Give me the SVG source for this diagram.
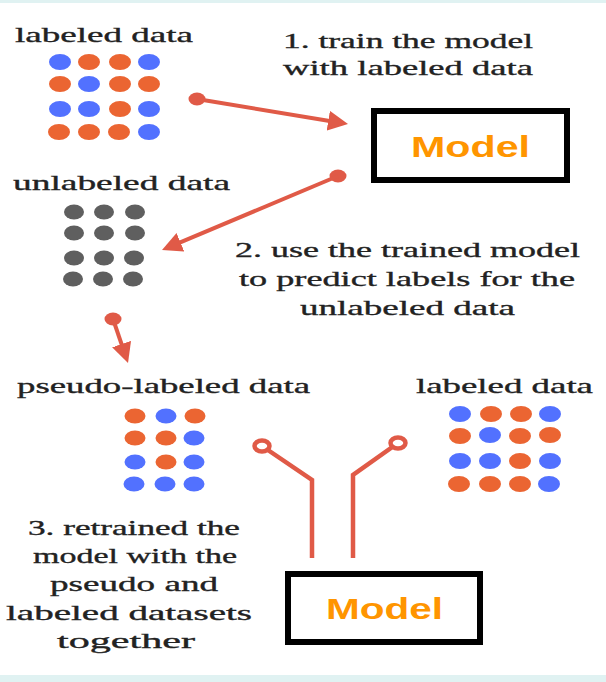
<svg xmlns="http://www.w3.org/2000/svg" width="606" height="682" viewBox="0 0 606 682">
<defs>
<style>
.t{font-family:"Liberation Serif","DejaVu Serif",serif;font-size:22px;fill:#222;stroke:#222;stroke-width:0.35}
.m{font-family:"Liberation Sans",Arial,sans-serif;font-weight:bold;font-size:30px;fill:#FF9500}
.box{fill:#fff;stroke:#000;stroke-width:6}
.b{fill:#5271FF}
.o{fill:#EB6532}
.g{fill:#5f5f5f}
.c{stroke:#E05A47;stroke-width:4;fill:none}
.cy{stroke:#E05A47;stroke-width:4.5;fill:none}
.dot{fill:#E05A47}
.ring{fill:#fff;stroke:#E05A47;stroke-width:4.5}
</style>
<marker id="ah" markerUnits="userSpaceOnUse" markerWidth="22" markerHeight="20" refX="6" refY="10" orient="auto" viewBox="0 0 22 20">
<path d="M0,0 L20,10 L0,20 z" fill="#E05A47"/>
</marker>
</defs>
<rect x="0" y="0" width="606" height="682" fill="#fff"/>
<rect x="0" y="0" width="606" height="3" fill="#E0F2F2"/>
<rect x="0" y="675" width="606" height="7" fill="#E0F2F2"/>

<g id="labeled-data-top">
<text class="t" x="15" y="42" textLength="178" lengthAdjust="spacingAndGlyphs">labeled data</text>
<ellipse class="b" cx="60" cy="62" rx="11" ry="8"/><ellipse class="o" cx="89" cy="62" rx="11" ry="8"/><ellipse class="o" cx="120" cy="62" rx="11" ry="8"/><ellipse class="b" cx="149" cy="62" rx="11" ry="8"/>
<ellipse class="o" cx="60" cy="84" rx="11" ry="8"/><ellipse class="b" cx="89" cy="84" rx="11" ry="8"/><ellipse class="o" cx="120" cy="84" rx="11" ry="8"/><ellipse class="o" cx="149" cy="84" rx="11" ry="8"/>
<ellipse class="b" cx="60" cy="109" rx="11" ry="8"/><ellipse class="b" cx="89" cy="109" rx="11" ry="8"/><ellipse class="o" cx="120" cy="109" rx="11" ry="8"/><ellipse class="b" cx="149" cy="109" rx="11" ry="8"/>
<ellipse class="o" cx="59" cy="132" rx="11" ry="8"/><ellipse class="o" cx="89" cy="132" rx="11" ry="8"/><ellipse class="o" cx="119" cy="132" rx="11" ry="8"/><ellipse class="b" cx="149" cy="132" rx="11" ry="8"/>
</g>

<g id="step1-label">
<text class="t" x="283" y="48" textLength="250" lengthAdjust="spacingAndGlyphs">1. train the model</text>
<text class="t" x="283" y="75" textLength="250" lengthAdjust="spacingAndGlyphs">with labeled data</text>
</g>

<g id="model-1">
<rect class="box" x="374" y="111" width="193" height="69"/>
<text class="m" x="411" y="157" textLength="119" lengthAdjust="spacingAndGlyphs">Model</text>
</g>

<g id="unlabeled-data">
<text class="t" x="13" y="190" textLength="217" lengthAdjust="spacingAndGlyphs">unlabeled data</text>
<ellipse class="g" cx="74" cy="212" rx="10" ry="7.5"/><ellipse class="g" cx="104" cy="212" rx="10" ry="7.5"/><ellipse class="g" cx="135" cy="212" rx="10" ry="7.5"/>
<ellipse class="g" cx="74" cy="233" rx="10" ry="7.5"/><ellipse class="g" cx="104" cy="233" rx="10" ry="7.5"/><ellipse class="g" cx="135" cy="233" rx="10" ry="7.5"/>
<ellipse class="g" cx="74" cy="258" rx="10" ry="7.5"/><ellipse class="g" cx="104" cy="258" rx="10" ry="7.5"/><ellipse class="g" cx="134" cy="258" rx="10" ry="7.5"/>
<ellipse class="g" cx="73" cy="279" rx="10" ry="7.5"/><ellipse class="g" cx="103" cy="279" rx="10" ry="7.5"/><ellipse class="g" cx="133" cy="279" rx="10" ry="7.5"/>
</g>

<g id="step2-label">
<text class="t" x="235" y="257" textLength="345" lengthAdjust="spacingAndGlyphs">2. use the trained model</text>
<text class="t" x="239" y="286" textLength="336" lengthAdjust="spacingAndGlyphs">to predict labels for the</text>
<text class="t" x="300" y="315" textLength="215" lengthAdjust="spacingAndGlyphs">unlabeled data</text>
</g>

<g id="pseudo-labeled-data">
<text class="t" x="17" y="393" textLength="293" lengthAdjust="spacingAndGlyphs">pseudo-labeled data</text>
<ellipse class="o" cx="135" cy="416" rx="10.5" ry="7.5"/><ellipse class="b" cx="166" cy="416" rx="10.5" ry="7.5"/><ellipse class="o" cx="195" cy="416" rx="10.5" ry="7.5"/>
<ellipse class="o" cx="135" cy="438" rx="10.5" ry="7.5"/><ellipse class="o" cx="166" cy="438" rx="10.5" ry="7.5"/><ellipse class="b" cx="194" cy="438" rx="10.5" ry="7.5"/>
<ellipse class="b" cx="135" cy="462" rx="10.5" ry="7.5"/><ellipse class="o" cx="166" cy="462" rx="10.5" ry="7.5"/><ellipse class="b" cx="194" cy="462" rx="10.5" ry="7.5"/>
<ellipse class="b" cx="134" cy="484" rx="10.5" ry="7.5"/><ellipse class="b" cx="165" cy="484" rx="10.5" ry="7.5"/><ellipse class="b" cx="194" cy="484" rx="10.5" ry="7.5"/>
</g>

<g id="labeled-data-right">
<text class="t" x="416" y="393" textLength="177" lengthAdjust="spacingAndGlyphs">labeled data</text>
<ellipse class="b" cx="460" cy="414" rx="11" ry="8"/><ellipse class="o" cx="491" cy="414" rx="11" ry="8"/><ellipse class="o" cx="521" cy="414" rx="11" ry="8"/><ellipse class="b" cx="550" cy="414" rx="11" ry="8"/>
<ellipse class="o" cx="460" cy="436" rx="11" ry="8"/><ellipse class="b" cx="490" cy="435" rx="11" ry="8"/><ellipse class="o" cx="520" cy="436" rx="11" ry="8"/><ellipse class="o" cx="550" cy="435" rx="11" ry="8"/>
<ellipse class="b" cx="460" cy="461" rx="11" ry="8"/><ellipse class="b" cx="490" cy="461" rx="11" ry="8"/><ellipse class="o" cx="520" cy="461" rx="11" ry="8"/><ellipse class="b" cx="550" cy="461" rx="11" ry="8"/>
<ellipse class="o" cx="459" cy="484" rx="11" ry="8"/><ellipse class="o" cx="490" cy="484" rx="11" ry="8"/><ellipse class="o" cx="520" cy="484" rx="11" ry="8"/><ellipse class="b" cx="549" cy="484" rx="11" ry="8"/>
</g>

<g id="step3-label">
<text class="t" x="28" y="535" textLength="212" lengthAdjust="spacingAndGlyphs">3. retrained the</text>
<text class="t" x="33" y="563" textLength="204" lengthAdjust="spacingAndGlyphs">model with the</text>
<text class="t" x="50" y="591" textLength="168" lengthAdjust="spacingAndGlyphs">pseudo and</text>
<text class="t" x="6" y="620" textLength="246" lengthAdjust="spacingAndGlyphs">labeled datasets</text>
<text class="t" x="57" y="648" textLength="138" lengthAdjust="spacingAndGlyphs">together</text>
</g>

<g id="model-2">
<rect class="box" x="288" y="574" width="192" height="68"/>
<text class="m" x="326" y="619" textLength="117" lengthAdjust="spacingAndGlyphs">Model</text>
</g>

<g id="connectors">
<ellipse class="dot" cx="197" cy="99" rx="8.5" ry="6.5"/>
<line class="c" x1="197" y1="99" x2="334.2" y2="121.7" marker-end="url(#ah)"/>
<ellipse class="dot" cx="338" cy="176" rx="8.5" ry="6.5"/>
<line class="c" x1="338" y1="176" x2="174.9" y2="244.6" marker-end="url(#ah)"/>
<ellipse class="dot" cx="113" cy="319" rx="8.5" ry="6.5"/>
<line class="c" x1="113" y1="319" x2="123.5" y2="349.8" marker-end="url(#ah)"/>
<polyline class="cy" points="262,446 312,480 312,558"/>
<polyline class="cy" points="398,443 353,475 353,558"/>
<ellipse class="ring" cx="262" cy="446" rx="7.5" ry="5.5"/>
<ellipse class="ring" cx="398" cy="443" rx="7.5" ry="5.5"/>
</g>
</svg>
